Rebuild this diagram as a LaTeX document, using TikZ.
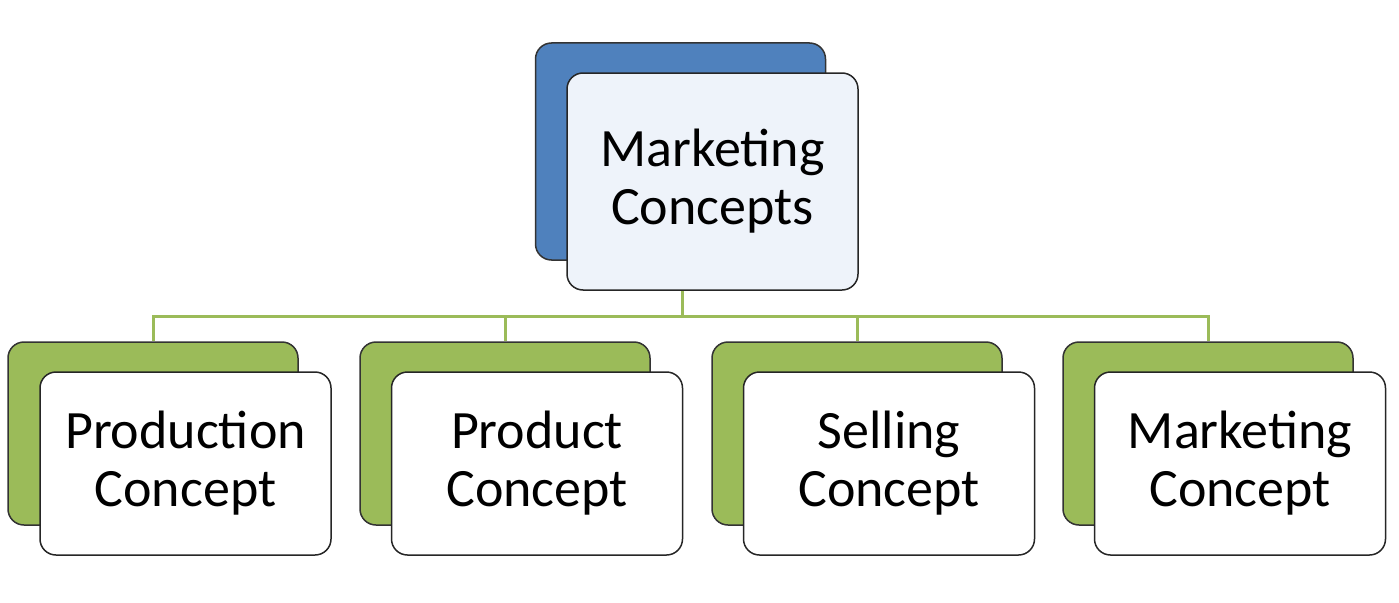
\documentclass[tikz,border=0pt]{standalone}
\usepackage{fontspec}
\setmainfont{Carlito}
\definecolor{bblue}{HTML}{4F81BD}
\definecolor{bgreen}{HTML}{9BBB59}
\definecolor{lblue}{HTML}{EEF3FA}
\begin{document}
\begin{tikzpicture}[x=1pt,y=-1pt,
  back/.style={draw=black!80,line width=1.5pt,rounded corners=16pt,minimum width=290pt,minimum height=#1,inner sep=0pt},
  front/.style={draw=black!85,line width=1.5pt,rounded corners=16pt,fill=white,minimum width=291pt,minimum height=#1,inner sep=0pt,align=center,font=\fontsize{54}{58}\selectfont},
  conn/.style={draw=bgreen,line width=3pt}]
\useasboundingbox (0,0) rectangle (1399,602);
% top
\node[back=217pt,fill=bblue] (tb) at (680.5,151.5) {};
\node[front=217pt,fill=lblue] (tf) at (712.5,181.5) {Marketing\\Concepts};
\coordinate (hub) at (682,316);
% bottom
\foreach \i/\bx/\fx/\t in {1/153/185.5/{Production\\Concept},2/505/537/{Product\\Concept},3/857/889/{Selling\\Concept},4/1208/1240/{Marketing\\Concept}}{
  \node[back=183pt,fill=bgreen] (b\i) at (\bx,433.5) {};
  \node[front=183pt] (f\i) at (\fx,463.5) {\t};
}
\draw[conn] (tf.south -| hub) -- (hub);
\draw[conn] (b1.north) |- (hub) -| (b4.north);
\draw[conn] (b2.north) -- (b2.north |- hub);
\draw[conn] (b3.north) -- (b3.north |- hub);
\end{tikzpicture}
\end{document}
